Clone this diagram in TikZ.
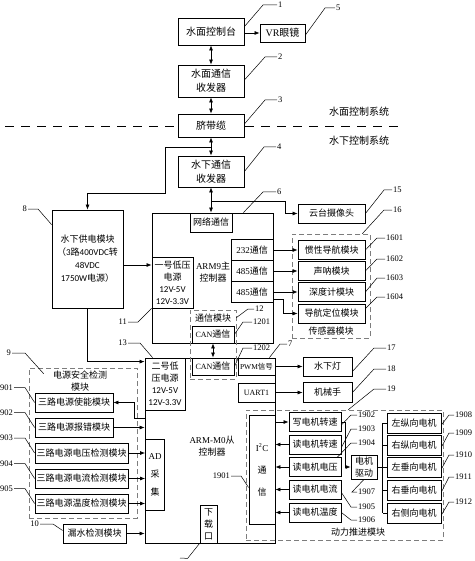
\documentclass[tikz,border=0pt]{standalone}
\usepackage{fontspec}
\setmainfont{Noto Sans CJK SC}
\newfontfamily\numfont{Liberation Serif}
\newfontfamily\latfont{Carlito}
\usepackage{xcolor}
\definecolor{dashgray}{RGB}{125,125,125}
\usetikzlibrary{arrows.meta}

\begin{document}
\begin{tikzpicture}[
    x=1pt, y=-1pt,
    every node/.style={font=\fontsize{9}{12}\selectfont, align=center},
    box/.style={rectangle, draw, fill=white, line width=0.8pt, inner sep=0pt, align=center},
    topbox/.style={box, font=\fontsize{10}{14}\selectfont},
    group/.style={rectangle, draw=dashgray, line width=0.7pt, dash pattern=on 5pt off 3pt, inner sep=0pt},
    arr/.style={-{Latex[length=5pt,width=4pt]}, line width=0.7pt},
    darr/.style={{Latex[length=5pt,width=4pt]}-{Latex[length=5pt,width=4pt]}, line width=0.7pt},
    lead/.style={line width=0.5pt},
    num/.style={font=\numfont\fontsize{8.5}{10}\selectfont, inner sep=1pt},
    title/.style={font=\fontsize{10}{12}\selectfont},
  ]
  \fill[white] (0,0) rectangle (474,561);
  \useasboundingbox (0,0) rectangle (474,561);

  % Divider between the two systems
  \draw[line width=0.8pt, dash pattern=on 9pt off 7pt] (5,126) -- (402,126);
  \node[title] (surfsys) at (359,112) {水面控制系统};
  \node[title] (subsys) at (359,141) {水下控制系统};

  % Surface side
  \node[topbox, minimum width=66pt, minimum height=27pt] (console) at (211,31.5) {水面控制台};
  \node[topbox, minimum width=45pt, minimum height=18pt] (vr) at (282.5,33) {{\numfont VR}眼镜};
  \node[topbox, minimum width=66pt, minimum height=32pt] (surftrx) at (211,81) {水面通信\\收发器};
  \node[topbox, minimum width=66pt, minimum height=23pt] (cable) at (211,125.5) {脐带缆};
  \node[topbox, minimum width=66pt, minimum height=31pt] (subtrx) at (211,171.5) {水下通信\\收发器};

  % Big controller boxes
  \node[box, minimum width=121pt, minimum height=130pt] (arm9) at (212.5,278) {};
  \node (arm9txt) at (213,272) {{\numfont ARM9}主\\控制器};
  \node[box, minimum width=130pt, minimum height=185pt] (arm0) at (210,450.5) {};
  \node (arm0txt) at (212,446) {{\numfont ARM-M0}从\\控制器};

  % Dashed groups
  \node[group, minimum width=78pt, minimum height=104pt] (sensors) at (331,286) {};
  \node (sensortxt) at (331,331) {传感器模块};
  \node[group, minimum width=46pt, minimum height=69pt] (comm) at (213,344.5) {};
  \node (commtxt) at (213,318) {通信模块};
  \node[group, minimum width=197pt, minimum height=130pt] (thrust) at (344.5,475) {};
  \node (thrusttxt) at (358,532) {动力推进模块};
  \node[group, minimum width=108pt, minimum height=150pt] (safety) at (83,443) {};
  \node[fill=white, inner sep=1pt] (safetytxt) at (80,381) {电源安全检测\\模块};

  % Power supply
  \node[box, minimum width=71pt, minimum height=98pt, font=\fontsize{9}{13}\selectfont] (power) at (87.5,259)
    {水下供电模块\\（{\latfont 3}路{\latfont 400VDC}转\\{\latfont 48VDC}\\{\latfont 1750W}电源）};

  % ARM9 side
  \node[box, minimum width=42pt, minimum height=19pt] (net) at (211,222.5) {网络通信};
  \node[box, minimum width=41pt, minimum height=51pt] (ldo1) at (172.5,282.5)
    {一号低压\\电源\\{\latfont 12V-5V}\\{\latfont 12V-3.3V}};
  \node[box, minimum width=42pt, minimum height=21pt] (c232) at (252,250) {{\numfont 232}通信};
  \node[box, minimum width=42pt, minimum height=21pt] (c485a) at (252,271) {{\numfont 485}通信};
  \node[box, minimum width=42pt, minimum height=21pt] (c485b) at (252,292) {{\numfont 485}通信};
  \node[box, minimum width=67pt, minimum height=19pt] (camera) at (331.5,213.5) {云台摄像头};
  \node[box, minimum width=67pt, minimum height=19pt] (imu) at (331.5,250) {惯性导航模块};
  \node[box, minimum width=67pt, minimum height=19pt] (sonar) at (331.5,271) {声呐模块};
  \node[box, minimum width=67pt, minimum height=19pt] (depth) at (331.5,292) {深度计模块};
  \node[box, minimum width=67pt, minimum height=19pt] (navpos) at (331.5,313.5) {导航定位模块};
  \node[box, minimum width=42pt, minimum height=17pt] (can1) at (213,334.5) {{\numfont\fontsize{8}{10}\selectfont CAN}通信};
  \node[box, minimum width=42pt, minimum height=17pt] (can2) at (213,366.5) {{\numfont\fontsize{8}{10}\selectfont CAN}通信};

  % ARM-M0 side
  \node[box, minimum width=40pt, minimum height=52pt] (ldo2) at (165,384)
    {二号低\\压电源\\{\latfont 12V-5V}\\{\latfont 12V-3.3V}};
  \node[box, minimum width=37pt, minimum height=17pt, font=\fontsize{7.5}{9}\selectfont] (pwm) at (256.5,366.5) {{\numfont PWM}信号};
  \node[box, minimum width=37pt, minimum height=19pt] (uart) at (256.5,392.5) {{\numfont\fontsize{8}{10}\selectfont UART1}};
  \node[box, minimum width=49pt, minimum height=19pt] (lamp) at (327.5,366.5) {水下灯};
  \node[box, minimum width=49pt, minimum height=20pt] (arm) at (327.5,392.5) {机械手};
  \node[box, minimum width=19pt, minimum height=71pt, font=\fontsize{9}{18}\selectfont] (ad) at (155,474.5) {{\numfont AD}\\采\\集};
  \node[box, minimum width=17pt, minimum height=38pt] (dl) at (208.5,524) {下\\载\\口};

  % Power safety modules
  \node[box, minimum width=78pt, minimum height=19pt] (en) at (74,402.5) {三路电源使能模块};
  \node[box, minimum width=78pt, minimum height=19pt] (err) at (74,427.5) {三路电源报错模块};
  \node[box, minimum width=93pt, minimum height=20pt] (vdet) at (81.5,453) {三路电源电压检测模块};
  \node[box, minimum width=93pt, minimum height=19pt] (idet) at (81.5,478.5) {三路电源电流检测模块};
  \node[box, minimum width=93pt, minimum height=19pt] (tdet) at (81.5,503.5) {三路电源温度检测模块};
  \node[box, minimum width=63pt, minimum height=19pt] (leak) at (94.5,533.5) {漏水检测模块};

  % Propulsion
  \node[box, minimum width=26pt, minimum height=109pt, font=\fontsize{9}{22}\selectfont] (i2c) at (262,469.5)
    {{\numfont I\textsuperscript{2}C}\\通\\信};
  \node[box, minimum width=52pt, minimum height=19pt] (wspd) at (315,422) {写电机转速};
  \node[box, minimum width=52pt, minimum height=19pt] (rspd) at (315,444.5) {读电机转速};
  \node[box, minimum width=52pt, minimum height=19pt] (rvol) at (315,467) {读电机电压};
  \node[box, minimum width=52pt, minimum height=19pt] (rcur) at (315,489.5) {读电机电流};
  \node[box, minimum width=52pt, minimum height=19pt] (rtmp) at (315,512.5) {读电机温度};
  \node[box, minimum width=26pt, minimum height=24pt] (drv) at (364,467) {电机\\驱动};
  \node[box, minimum width=54pt, minimum height=20pt] (m1) at (414,423) {左纵向电机};
  \node[box, minimum width=54pt, minimum height=20pt] (m2) at (414,445) {右纵向电机};
  \node[box, minimum width=54pt, minimum height=20pt] (m3) at (414,467) {左垂向电机};
  \node[box, minimum width=54pt, minimum height=20pt] (m4) at (414,490) {右垂向电机};
  \node[box, minimum width=54pt, minimum height=20pt] (m5) at (414,513) {右侧向电机};

  % Connections
  \coordinate (pb) at (211,147);
  \coordinate (cb) at (211,201);
  \draw[arr] (console.east |- vr.west) -- (vr.west);
  \draw[darr] (console) -- (surftrx);
  \draw[darr] (surftrx) -- (cable);
  \draw[darr] (cable) -- (subtrx);
  \draw[darr] (subtrx.south) -- (net.north);
  \draw[arr] (pb) -- ++(-46,0) -- ++(0,46) -| (power.north);
  \draw[arr] (cb) -- ++(74,0) |- (camera.west);
  \draw[arr] ([yshift=-6pt]power.east) -- ([yshift=-6pt]power.east -| ldo1.west);
  \draw[arr] (c232.east) -- (imu.west);
  \draw[arr] (c485a.east) -- (sonar.west);
  \draw[arr] (c485b.east) -- (depth.west);
  \draw[arr] ([yshift=-7pt]c485b.east) -- ++(10,0) |- (navpos.west);
  \draw[darr] (can1) -- (can2);
  \draw[arr] (power.south) |- ([yshift=-4pt]ldo2.north west);
  \draw[arr] (pwm.east) -- (lamp.west);
  \draw[arr] (uart.east) -- (arm.west);
  \draw[arr] ([yshift=-61pt]arm0.north west) -- ++(-10,0) |- (en.east);
  \draw[arr] (err.east) -- (err.east -| arm0.west);
  \draw[arr] (vdet.east) -- (vdet.east -| ad.west);
  \draw[arr] (idet.east) -- (idet.east -| ad.west);
  \draw[arr] (tdet.east) -- (tdet.east -| ad.west);
  \draw[arr] (leak.east) -- (leak.east -| arm0.west);
  \draw[arr] (wspd.west -| i2c.east) -- (wspd.west);
  \draw[arr] (rspd.west) -- (rspd.west -| i2c.east);
  \draw[arr] (rvol.west) -- (rvol.west -| i2c.east);
  \draw[arr] (rcur.west) -- (rcur.west -| i2c.east);
  \draw[arr] (rtmp.west) -- (rtmp.west -| i2c.east);
  \draw[arr] (wspd.east) -- ++(4,0) |- (drv.west);
  \draw[line width=0.7pt] (drv.east) -- ++(6,0);
  \draw[line width=0.7pt] ([xshift=-4pt]m1.west) -- ([xshift=-4pt]m5.west);
  \draw[line width=0.7pt] (m1.west) -- ++(-4,0);
  \draw[line width=0.7pt] (m2.west) -- ++(-4,0);
  \draw[line width=0.7pt] (m3.west) -- ++(-4,0);
  \draw[line width=0.7pt] (m4.west) -- ++(-4,0);
  \draw[line width=0.7pt] (m5.west) -- ++(-4,0);

  % Reference numbers
  \node[num, anchor=west] (n1) at (277,5) {1};
  \draw[lead] ([yshift=-9pt]console.north east) -- ([xshift=-14pt]n1.west) -- (n1.west);
  \node[num, anchor=west] (n5) at (335,8) {5};
  \draw[lead] ([yshift=-2pt]vr.east) -- ([xshift=-10pt]n5.west) -- (n5.west);
  \node[num, anchor=west] (n2) at (277,57) {2};
  \draw[lead] ([yshift=1pt]surftrx.east) -- ([xshift=-12pt]n2.west) -- (n2.west);
  \node[num, anchor=west] (n3) at (277,100) {3};
  \draw[lead] ([yshift=1.5pt]cable.east) -- ([xshift=-12pt]n3.west) -- (n3.west);
  \node[num, anchor=west] (n4) at (276,147) {4};
  \draw[lead] (subtrx.east) -- ([xshift=-12pt]n4.west) -- (n4.west);
  \node[num, anchor=west] (n6) at (276,192) {6};
  \draw[lead] ([xshift=-30pt]arm9.north east) -- ([xshift=-13pt]n6.west) -- (n6.west);
  \node[num, anchor=east] (n8) at (28,209) {8};
  \draw[lead] ([yshift=-15pt]power.north west) -- ([xshift=10pt]n8.east) -- (n8.east);
  \node[num, anchor=east] (n11) at (128,322) {11};
  \draw[lead] (ldo1.south west) -- ([xshift=10pt]n11.east) -- (n11.east);
  \node[num, anchor=west] (n12) at (254,309) {12};
  \draw[lead] ([yshift=-8pt]comm.north east) -- ([xshift=-6pt]n12.west) -- (n12.west);
  \node[num, anchor=west] (n1201) at (252,322) {1201};
  \draw[lead] (can1.east) -- ([xshift=-9pt]n1201.west) -- (n1201.west);
  \node[num, anchor=west] (n1202) at (252,348) {1202};
  \draw[lead] (can2.east) -- ([xshift=-9pt]n1202.west) -- (n1202.west);
  \node[num, anchor=west] (n7) at (287,344) {7};
  \draw[lead] ([xshift=-6pt]pwm.north east) -- ([xshift=-7pt]n7.west) -- (n7.west);
  \node[num, anchor=east] (n13) at (128,343) {13};
  \draw[lead] ([xshift=8pt]ldo2.north west) -- ([xshift=12pt]n13.east) -- (n13.east);
  \node[num, anchor=west] (n15) at (392,190) {15};
  \draw[lead] (camera.east) -- ([xshift=-8pt]n15.west) -- (n15.west);
  \node[num, anchor=west] (n16) at (392,210) {16};
  \draw[lead] ([xshift=-8pt]sensors.north east) -- ([xshift=-8pt]n16.west) -- (n16.west);
  \node[num, anchor=west] (n1601) at (385,238) {1601};
  \draw[lead] (imu.east) -- ([xshift=-8pt]n1601.west) -- (n1601.west);
  \node[num, anchor=west] (n1602) at (385,259) {1602};
  \draw[lead] (sonar.east) -- ([xshift=-8pt]n1602.west) -- (n1602.west);
  \node[num, anchor=west] (n1603) at (385,278) {1603};
  \draw[lead] (depth.east) -- ([xshift=-8pt]n1603.west) -- (n1603.west);
  \node[num, anchor=west] (n1604) at (385,297) {1604};
  \draw[lead] ([yshift=5pt]navpos.east) -- ([xshift=-8pt]n1604.west) -- (n1604.west);
  \node[num, anchor=west] (n17) at (386,348) {17};
  \draw[lead] ([yshift=-5pt]lamp.east) -- ([xshift=-12pt]n17.west) -- (n17.west);
  \node[num, anchor=west] (n18) at (386,369) {18};
  \draw[lead] (arm.east) -- ([xshift=-12pt]n18.west) -- (n18.west);
  \node[num, anchor=west] (n19) at (386,389) {19};
  \draw[lead] ([xshift=-95pt]thrust.north east) -- ([xshift=-12pt]n19.west) -- (n19.west);
  \node[num, anchor=east] (n9) at (12,353) {9};
  \draw[lead] ([xshift=15pt,yshift=-6pt]safety.north west) -- ([xshift=13pt]n9.east) -- (n9.east);
  \node[num, anchor=east] (n901) at (14,387.5) {901};
  \draw[lead] (en.west) -- ([xshift=11pt]n901.east) -- (n901.east);
  \node[num, anchor=east] (n902) at (14,412.5) {902};
  \draw[lead] (err.west) -- ([xshift=11pt]n902.east) -- (n902.east);
  \node[num, anchor=east] (n903) at (14,438) {903};
  \draw[lead] (vdet.west) -- ([xshift=11pt]n903.east) -- (n903.east);
  \node[num, anchor=east] (n904) at (14,463.5) {904};
  \draw[lead] (idet.west) -- ([xshift=11pt]n904.east) -- (n904.east);
  \node[num, anchor=east] (n905) at (14,488.5) {905};
  \draw[lead] (tdet.west) -- ([xshift=11pt]n905.east) -- (n905.east);
  \node[num, anchor=east] (n10) at (40,524) {10};
  \draw[lead] ([yshift=3pt]leak.west) -- ([xshift=13pt]n10.east) -- (n10.east);
  \node[num, anchor=east] (n1901) at (231,476) {1901};
  \draw[lead] ([yshift=-18pt]i2c.west) -- ([xshift=10pt]n1901.east) -- (n1901.east);
  \node[num, anchor=west] (n1902) at (357,415) {1902};
  \draw[lead] ([yshift=-3pt]wspd.east) -- ([xshift=-6pt]n1902.west) -- (n1902.west);
  \node[num, anchor=west] (n1903) at (357,429) {1903};
  \draw[lead] ([yshift=-3pt]rspd.east) -- ([xshift=-6pt]n1903.west) -- (n1903.west);
  \node[num, anchor=west] (n1904) at (357,443) {1904};
  \draw[lead] ([xshift=-4pt]rvol.north east) -- ([xshift=-6pt]n1904.west) -- (n1904.west);
  \node[num, anchor=west] (n1907) at (357,492) {1907};
  \draw[lead] (drv.south) -- ([xshift=-5pt]n1907.west) -- (n1907.west);
  \node[num, anchor=west] (n1905) at (357,507) {1905};
  \draw[lead] ([yshift=-3pt]rcur.east) -- ([xshift=-6pt]n1905.west) -- (n1905.west);
  \node[num, anchor=west] (n1906) at (357,520) {1906};
  \draw[lead] (rtmp.east) -- ([xshift=-6pt]n1906.west) -- (n1906.west);
  \node[num, anchor=west] (n1908) at (454,415) {1908};
  \draw[lead] ([yshift=-2pt]m1.east) -- ([xshift=-5pt]n1908.west) -- (n1908.west);
  \node[num, anchor=west] (n1909) at (454,433) {1909};
  \draw[lead] ([yshift=-2pt]m2.east) -- ([xshift=-5pt]n1909.west) -- (n1909.west);
  \node[num, anchor=west] (n1910) at (454,455) {1910};
  \draw[lead] ([yshift=-2pt]m3.east) -- ([xshift=-5pt]n1910.west) -- (n1910.west);
  \node[num, anchor=west] (n1911) at (454,477) {1911};
  \draw[lead] ([yshift=-2pt]m4.east) -- ([xshift=-5pt]n1911.west) -- (n1911.west);
  \node[num, anchor=west] (n1912) at (454,502) {1912};
  \draw[lead] ([yshift=-2pt]m5.east) -- ([xshift=-5pt]n1912.west) -- (n1912.west);
  \coordinate (dlend) at (180,558);
  \draw[lead] (dl.south west) -- ++(-12,15) -- (dlend);
\end{tikzpicture}
\end{document}
